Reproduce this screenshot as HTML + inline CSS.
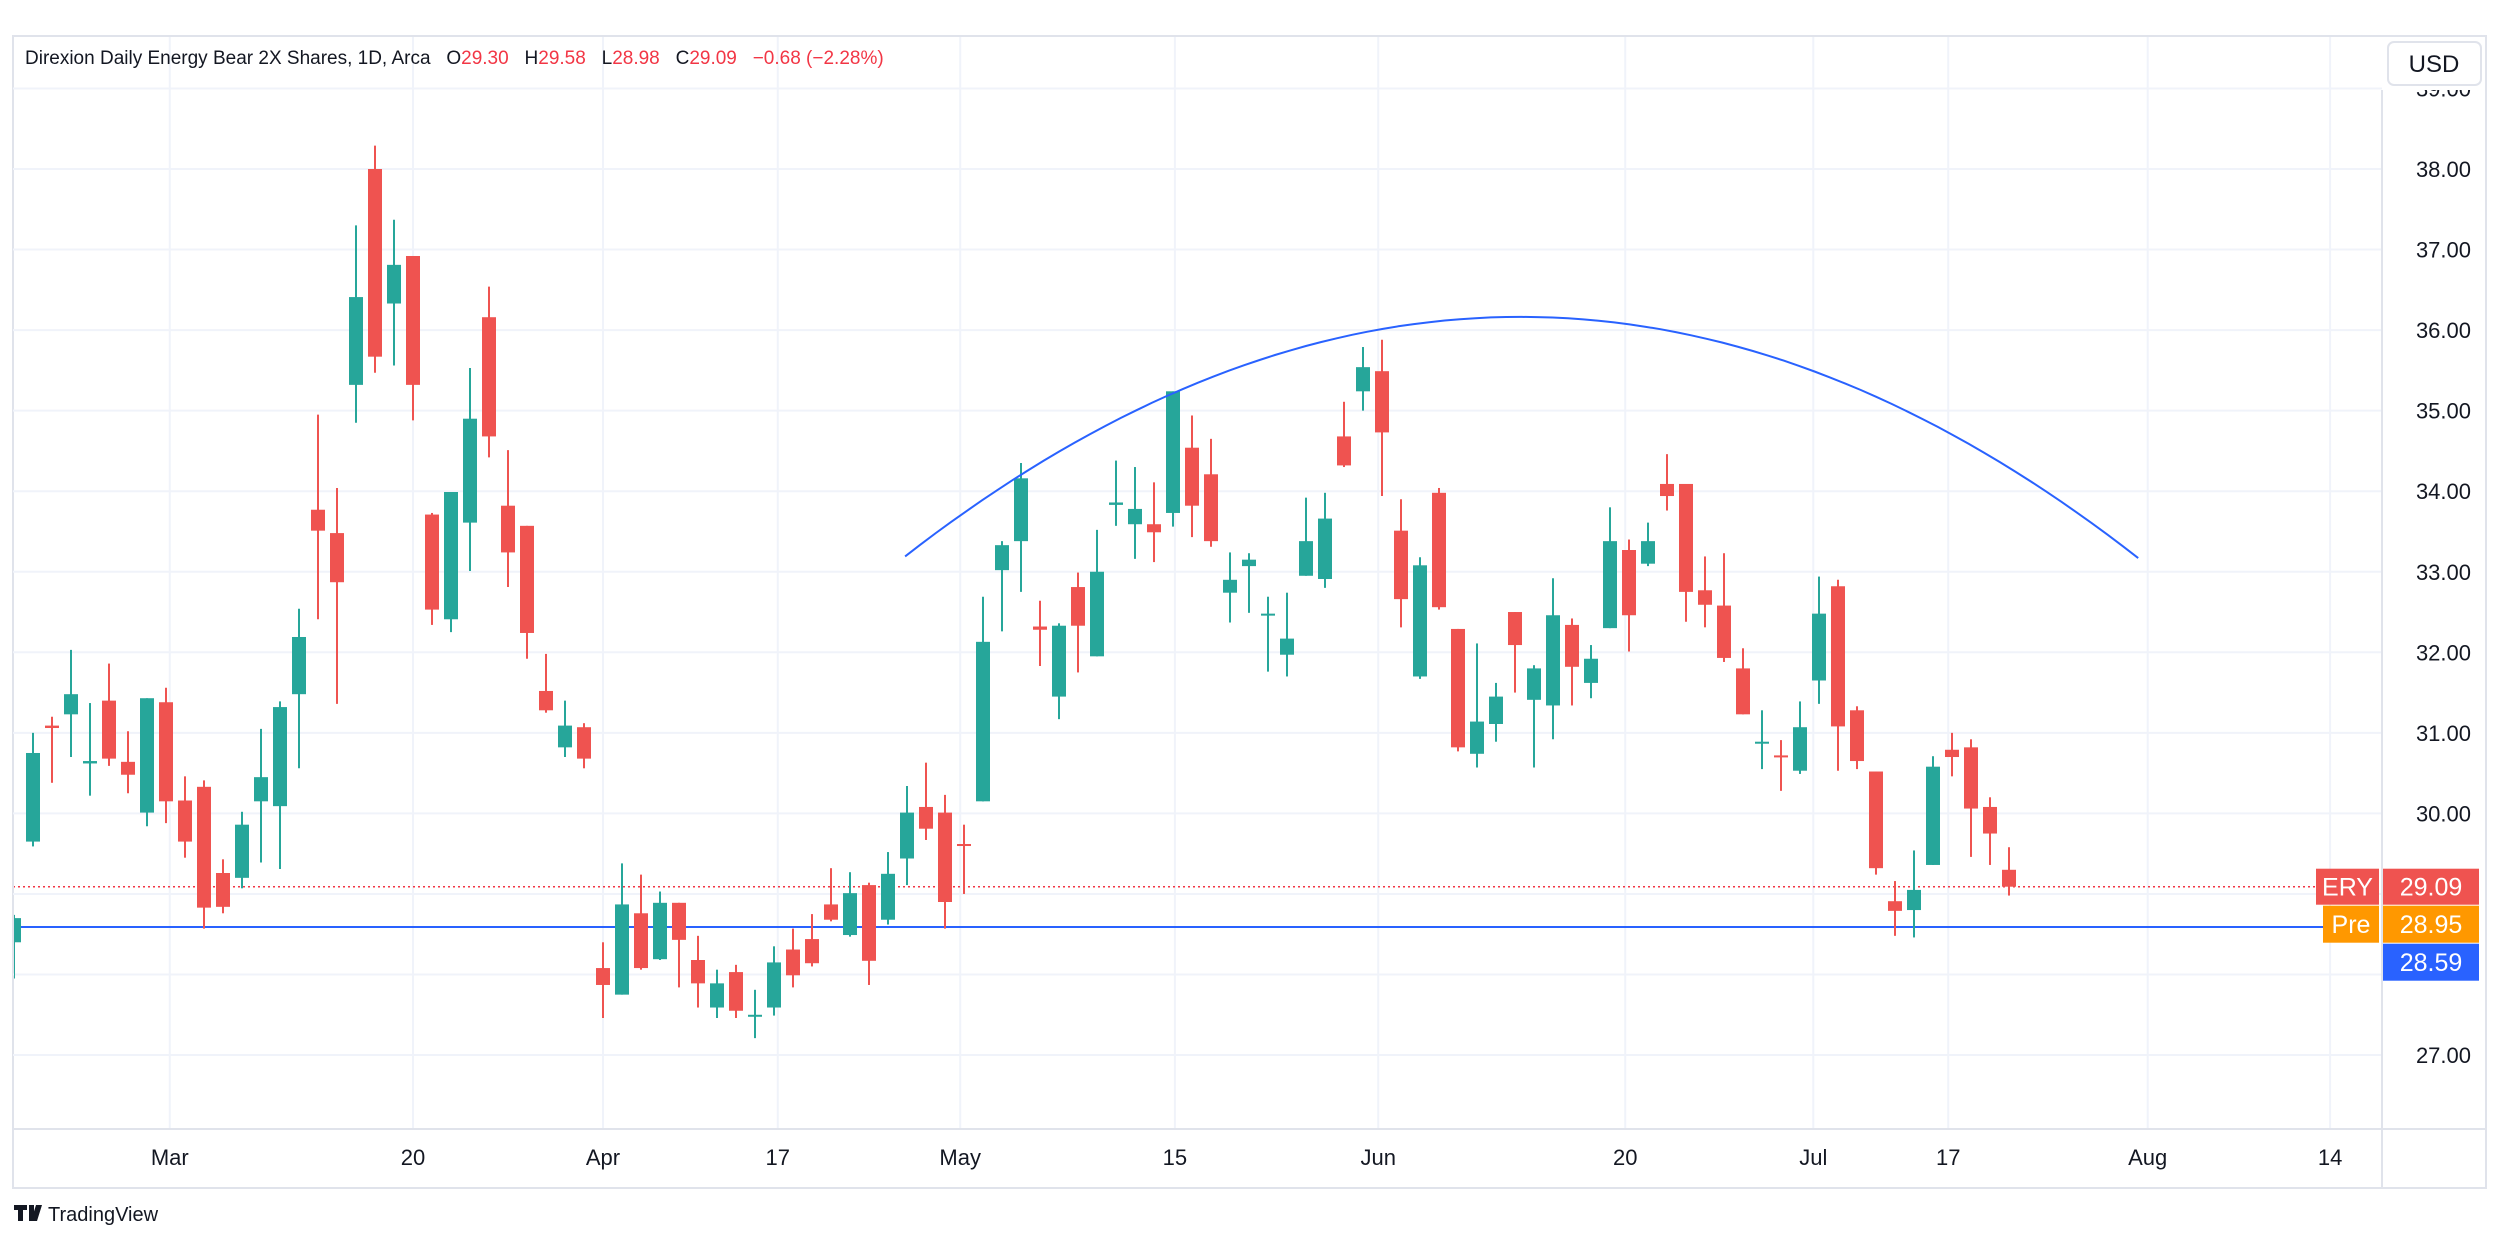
<!DOCTYPE html>
<html><head><meta charset="utf-8"><style>
html,body{margin:0;padding:0;background:#fff;}
svg{display:block;font-family:"Liberation Sans",sans-serif;}
.pre{white-space:pre;}
</style></head><body>
<svg id="chart" width="2500" height="1236" viewBox="0 0 2500 1236" xmlns="http://www.w3.org/2000/svg">
<rect x="0" y="0" width="2500" height="1236" fill="#fff"/>
<rect x="13" y="36" width="2473" height="1152" fill="none" stroke="#e0e3eb" stroke-width="2"/>
<defs>
<clipPath id="plotclip"><rect x="14" y="37" width="2367" height="1091"/></clipPath>
<clipPath id="axisclip"><rect x="2383" y="90" width="103" height="1038"/></clipPath>
</defs>
<g id="grid"></g>
<g id="plot" clip-path="url(#plotclip)"></g>
<line x1="2382" y1="90" x2="2382" y2="1188" stroke="#e0e3eb" stroke-width="2"/>
<line x1="13" y1="1129" x2="2486" y2="1129" stroke="#e0e3eb" stroke-width="2"/>
<g id="yaxis" clip-path="url(#axisclip)"></g>
<g id="xaxis"></g>
<g id="labels"></g>
<rect x="2388" y="42" width="93" height="43" rx="6" fill="#fff" stroke="#e0e3eb" stroke-width="2"/>
<text x="2434" y="72" font-size="24" text-anchor="middle" fill="#131722">USD</text>
<text class="pre" xml:space="preserve" x="25" y="64" font-size="19" fill="#131722">Direxion Daily Energy Bear 2X Shares, 1D, Arca   O<tspan fill="#f23645">29.30</tspan>   H<tspan fill="#f23645">29.58</tspan>   L<tspan fill="#f23645">28.98</tspan>   C<tspan fill="#f23645">29.09</tspan>   <tspan fill="#f23645">−0.68 (−2.28%)</tspan></text>
<g>
<path d="M14 1205h13v5h-4v11h-5v-11h-4z M29 1205h5v16h-5z M36 1205h6l-5 16h-6z" fill="#131722"/>
<text x="48" y="1221" font-size="20" fill="#131722">TradingView</text>
</g>
</svg>
<script>
const opens=[28.40,29.65,31.09,31.23,30.62,31.40,30.64,30.01,31.38,30.16,30.33,29.26,29.20,30.15,30.09,31.48,33.77,33.48,35.32,38.00,36.33,36.92,33.71,32.41,33.61,36.16,33.82,33.57,31.52,30.82,31.07,28.08,27.75,28.76,28.19,28.89,28.18,27.59,28.03,27.48,27.59,28.31,28.44,28.87,28.49,29.11,28.68,29.44,30.08,30.01,29.62,30.15,33.02,33.38,32.32,31.45,32.81,31.95,33.83,33.59,33.59,33.73,34.54,34.21,32.74,33.07,32.46,31.97,32.95,32.91,34.68,35.24,35.49,33.51,31.70,33.98,32.29,30.74,31.11,32.50,31.41,31.34,32.34,31.62,32.30,33.27,33.10,34.09,34.09,32.77,32.58,31.80,30.87,30.72,30.53,31.65,32.82,31.28,30.52,28.91,28.80,29.36,30.79,30.82,30.08,29.30];
const highs=[28.74,31.00,31.20,32.03,31.37,31.86,31.02,31.43,31.56,30.46,30.41,29.43,30.02,31.05,31.39,32.54,34.95,34.04,37.30,38.29,37.37,36.92,33.73,33.99,35.53,36.54,34.51,33.57,31.98,31.40,31.12,28.40,29.38,29.24,29.03,28.89,28.48,28.06,28.12,27.81,28.35,28.57,28.75,29.32,29.27,29.14,29.52,30.34,30.63,30.23,29.86,32.69,33.38,34.35,32.64,32.36,32.99,33.52,34.38,34.30,34.11,35.24,34.94,34.65,33.24,33.23,32.69,32.74,33.92,33.98,35.11,35.79,35.88,33.90,33.18,34.04,32.29,32.11,31.62,32.50,31.84,32.92,32.42,32.09,33.80,33.40,33.61,34.46,34.09,33.19,33.23,32.05,31.28,30.91,31.39,32.94,32.90,31.33,30.52,29.16,29.54,30.71,31.00,30.92,30.20,29.58];
const lows=[27.95,29.59,30.38,30.70,30.22,30.59,30.25,29.84,29.88,29.45,28.57,28.76,29.07,29.39,29.31,30.56,32.41,31.36,34.85,35.47,35.56,34.88,32.34,32.25,33.01,34.42,32.81,31.92,31.25,30.70,30.56,27.46,27.75,28.06,28.18,27.84,27.59,27.46,27.46,27.21,27.49,27.84,28.10,28.66,28.47,27.87,28.62,29.11,29.67,28.57,29.00,30.15,32.26,32.75,31.83,31.17,31.75,31.95,33.57,33.16,33.12,33.56,33.43,33.31,32.37,32.49,31.76,31.70,32.95,32.80,34.30,35.00,33.94,32.31,31.67,32.53,30.77,30.57,30.89,31.50,30.57,30.92,31.34,31.43,32.30,32.01,33.07,33.76,32.38,32.31,31.88,31.23,30.55,30.28,30.49,31.36,30.53,30.55,29.24,28.48,28.46,29.36,30.46,29.46,29.36,28.98];
const closes=[28.70,30.75,31.06,31.48,30.65,30.68,30.48,31.43,30.15,29.65,28.83,28.84,29.86,30.45,31.32,32.19,33.51,32.87,36.41,35.67,36.81,35.32,32.53,33.99,34.90,34.68,33.24,32.24,31.28,31.09,30.68,27.87,28.87,28.08,28.89,28.43,27.89,27.89,27.55,27.50,28.15,27.99,28.14,28.68,29.01,28.17,29.25,30.01,29.81,28.90,29.60,32.13,33.33,34.16,32.28,32.33,32.33,33.00,33.86,33.78,33.49,35.24,33.82,33.38,32.90,33.15,32.48,32.17,33.38,33.66,34.32,35.54,34.73,32.66,33.08,32.56,30.82,31.14,31.45,32.09,31.80,32.46,31.82,31.92,33.38,32.46,33.38,33.94,32.75,32.59,31.93,31.23,30.89,30.70,31.07,32.48,31.08,30.65,29.32,28.79,29.05,30.58,30.70,30.06,29.75,29.09];
const priceTicks=[39,38,37,36,35,34,33,32,31,30,29,28,27];
const dateLabels=["Mar","20","Apr","17","May","15","Jun","20","Jul","17","Aug","14"];
const dateIndex=[9.2,22.0,32.0,41.2,50.8,62.1,72.8,85.8,95.7,102.8,113.3,122.9];
const arcIndex=[47.9,81.5,112.8];
const arcPrice=[33.19,36.16,33.17];
const supportLevel=28.59;
const lastClose=29.09;
const preValue=28.95;

const NS="http://www.w3.org/2000/svg";
function yS(p){return 169+(38-p)*80.55;}
function xS(i){return -5+19*i;}
function mk(tag,attrs,parent){const e=document.createElementNS(NS,tag);for(const k in attrs)e.setAttribute(k,attrs[k]);parent.appendChild(e);return e;}
const grid=document.getElementById('grid'),plot=document.getElementById('plot'),yaxis=document.getElementById('yaxis'),xaxis=document.getElementById('xaxis'),labels=document.getElementById('labels');
const yc=yS(lastClose);
const tagTop=yc-18,tagBottom=yc+94;

priceTicks.forEach(p=>{
  const l=mk('line',{x1:13,x2:2382,y1:yS(p),y2:yS(p),stroke:'#f0f3fa','stroke-width':2},grid);
  
  
  const ty=yS(p);
  if(ty>tagTop-12 && ty<tagBottom+14) return;
  const t=mk('text',{x:2471,y:ty+8,'font-size':22,'text-anchor':'end',fill:'#131722'},yaxis);
  t.textContent=p.toFixed(2);
  
  
});
dateLabels.forEach((d,k)=>{
  const x=xS(dateIndex[k]);
  const l=mk('line',{x1:x,x2:x,y1:37,y2:1128,stroke:'#f0f3fa','stroke-width':2},grid);
  
  
  const t=mk('text',{x:x,y:1165,'font-size':22,'text-anchor':'middle',fill:'#131722'},xaxis);
  t.textContent=d;
  
  
});

const sl=mk('line',{x1:13,x2:2323,y1:yS(supportLevel),y2:yS(supportLevel),stroke:'#2962ff','stroke-width':2},plot);


const lp=mk('line',{x1:13,x2:2317,y1:yS(lastClose),y2:yS(lastClose),stroke:'#f23645','stroke-width':1.5,'stroke-dasharray':'2 3'},plot);



for(let i=0;i<opens.length;i++){
  const o=opens[i],h=highs[i],l=lows[i],c=closes[i];
  const up=c>=o;const col=up?'#26a69a':'#ef5350';const x=xS(i+1);
  const g=mk('g',{},plot);
  
  
  const w=mk('line',{x1:x,x2:x,y1:yS(h),y2:yS(l),stroke:col,'stroke-width':2},g);
  
  
  const top=yS(Math.max(o,c)),bot=yS(Math.min(o,c));
  const b=mk('rect',{x:x-7,y:top,width:14,height:Math.max(2,bot-top),fill:col},g);
  
  
}

(function(){
  const [x0,x1,x2]=arcIndex,[y0,y1,y2]=arcPrice;
  function q(t){return y0*((t-x1)*(t-x2))/((x0-x1)*(x0-x2))+y1*((t-x0)*(t-x2))/((x1-x0)*(x1-x2))+y2*((t-x0)*(t-x1))/((x2-x0)*(x2-x1));}
  let d='';
  for(let k=0;k<=80;k++){const t=x0+(x2-x0)*k/80;d+=(k?'L':'M')+xS(t).toFixed(1)+' '+yS(q(t)).toFixed(1);}
  const a=mk('path',{d:d,fill:'none',stroke:'#2962ff','stroke-width':2},plot);
  
  
})();

function tag(x,y,w,h,fill,txt,name){
  const r=mk('rect',{x:x,y:y,width:w,height:h,fill:fill},labels);
  
  
  const t=mk('text',{x:x+w/2,y:y+h/2+9,'font-size':25,'text-anchor':'middle',fill:'#fff'},labels);
  t.textContent=txt;
  
  
}
tag(2316,yc-18,63,36,'#ef5350','ERY','symbol-label');
tag(2383,yc-18,96,36,'#ef5350',lastClose.toFixed(2),'last-price-label');
tag(2323,yc+19,56,37,'#ff9800','Pre','premarket-label');
tag(2383,yc+19,96,37,'#ff9800',preValue.toFixed(2),'premarket-price-label');
tag(2383,yc+57,96,37,'#2962ff',supportLevel.toFixed(2),'support-price-label');
</script>
</body></html>
